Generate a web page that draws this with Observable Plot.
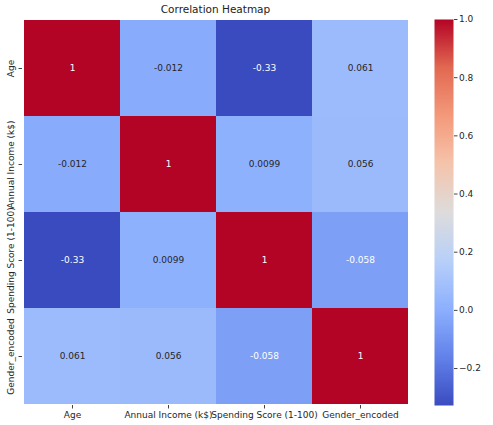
<!DOCTYPE html>
<html>
<head>
<meta charset="utf-8">
<script src="https://cdn.jsdelivr.net/npm/d3@7"></script>
<script src="https://cdn.jsdelivr.net/npm/@observablehq/plot@0.6"></script>
<style>
  body { margin: 0; background: white; font-family: "DejaVu Sans", sans-serif; }
  #chart { position: relative; width: 493px; height: 425px; }
  #chart svg { position: absolute; top: 0; overflow: visible; }
  #title { position: absolute; top: 3px; left: 22px; width: 387px; text-align: center; font-size: 10.5px; color: #222; }
</style>
</head>
<body>
<div id="chart"><div id="title">Correlation Heatmap</div></div>
<script>
const variables = ['Age', 'Annual Income (k$)', 'Spending Score (1-100)', 'Gender_encoded']
const ageRow = [1, -0.012, -0.33, 0.061]
const incomeRow = [-0.012, 1, 0.0099, 0.056]
const spendingRow = [-0.33, 0.0099, 1, -0.058]
const genderRow = [0.061, 0.056, -0.058, 1]
const colorbarTicks = [-0.2, 0, 0.2, 0.4, 0.6, 0.8, 1.0]

// coolwarm
const coolwarm = d3.piecewise(d3.interpolateRgb, ['#3b4cc0', '#6282ea', '#8db0fe', '#b8d0f9', '#dddcdc', '#f5c4ac', '#f49a7b', '#e26952', '#b40426'])
const vmin = -0.327, vmax = 1
const colorScale = {type: 'linear', domain: [vmin, vmax], interpolate: () => coolwarm}

const rows = [ageRow, incomeRow, spendingRow, genderRow]
const data = rows.flatMap((r, i) => r.map((v, j) => ({row: variables[i], col: variables[j], value: v})))

// texto claro u oscuro segun la luminancia de la celda (como seaborn)
const isLight = d => {
  const t = Math.max(0, Math.min(1, (d.value - vmin) / (vmax - vmin)))
  const c = d3.rgb(coolwarm(t))
  const lum = [c.r, c.g, c.b].map(x => { x /= 255; return x <= 0.03928 ? x / 12.92 : Math.pow((x + 0.055) / 1.055, 2.4) })
  return 0.2126 * lum[0] + 0.7152 * lum[1] + 0.0722 * lum[2] > 0.408
}

let heatmap = Plot.plot({
  width: 415,
  height: 425,
  marginLeft: 22,
  marginTop: 19,
  marginBottom: 20,
  marginRight: 6,
  style: {fontFamily: 'DejaVu Sans', fontSize: '9px', color: '#262626'},
  x: {domain: variables, padding: 0, label: null},
  y: {domain: variables, padding: 0, label: null},
  color: colorScale,
  marks: [
    Plot.cell(data, {x: 'col', y: 'row', fill: 'value', inset: 0}),
    Plot.text(data.filter(isLight), {x: 'col', y: 'row', text: d => String(d.value), fill: '#262626', fontSize: 9}),
    Plot.text(data.filter(d => !isLight(d)), {x: 'col', y: 'row', text: d => String(d.value), fill: 'white', fontSize: 9}),
    Plot.axisX({tickSize: 3.5, tickPadding: 3, stroke: '#444', fontSize: 9}),
    Plot.axisY({tickSize: 3.5, tickFormat: null, stroke: '#444'}),
    Plot.text(variables, {y: d => d, frameAnchor: 'left', dx: -11, rotate: -90, textAnchor: 'middle', lineAnchor: 'middle', fontSize: 9, fill: '#262626'})
  ]
})

let colorbar = Plot.plot({
  width: 63,
  height: 425,
  marginLeft: 4,
  marginRight: 40,
  marginTop: 19,
  marginBottom: 20,
  style: {fontFamily: 'DejaVu Sans', fontSize: '9px', color: '#262626'},
  x: {domain: [0, 1], axis: null},
  y: {domain: [vmin, vmax], label: null},
  color: colorScale,
  marks: [
    Plot.raster({fill: (x, y) => y, x1: 0, x2: 1, y1: vmin, y2: vmax, width: 1, height: 300, imageRendering: 'auto'}),
    Plot.axisY({anchor: 'right', ticks: colorbarTicks, tickSize: 3.5, tickPadding: 2, stroke: '#444', tickFormat: d => d.toFixed(1).replace('-', '\u2212')})
  ]
})

d3.select(heatmap).style('left', '0px')
d3.select(colorbar).style('left', '430px')
d3.select('#chart').append(() => heatmap)
d3.select('#chart').append(() => colorbar)
</script>
</body>
</html>
